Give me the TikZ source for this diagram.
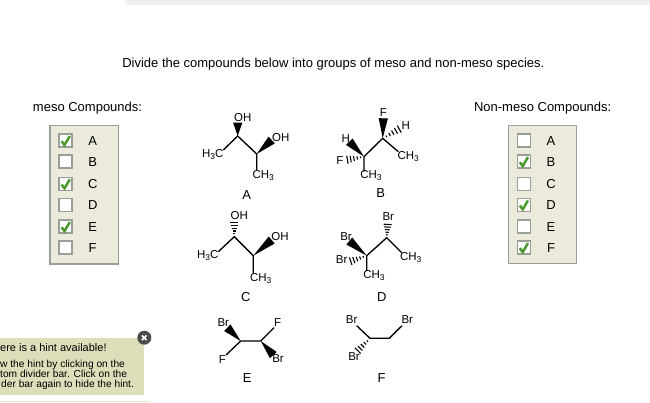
\documentclass[tikz,border=0pt]{standalone}
\usepackage{fontspec}
\setmainfont{Liberation Sans}
\usepackage{tikz}
\usetikzlibrary{calc,positioning}
\definecolor{panelfill}{HTML}{ECEADA}
\definecolor{panelline}{HTML}{989F98}
\definecolor{hintfill}{HTML}{DEDEBB}
\definecolor{tickgreen}{HTML}{4C9A2F}
\newcommand{\sub}[1]{\raisebox{-2pt}{\fontsize{8.5}{9}\selectfont #1}}
\tikzset{
  bond/.style={line width=1.35pt},
  atom/.style={font=\fontsize{11.5}{12}\selectfont,inner sep=0pt},
  letter/.style={font=\fontsize{13}{13}\selectfont,inner sep=0pt},
  heading/.style={font=\fontsize{13}{13}\selectfont,inner sep=0pt},
  panel/.style={draw=panelline,line width=1.5pt,fill=panelfill},
  tickbox/.style={draw=panelline,line width=1.7pt,fill=white,minimum size=13pt,inner sep=0pt},
  tickmark/.style={draw=tickgreen,line width=2.5pt},
  hint/.style={font=\fontsize{10.2}{11}\selectfont,inner sep=0pt,anchor=base west}
}
\newcommand{\wedgebond}[2]{\fill (#1) -- ($(#2)!4.6pt!90:(#1)$) -- ($(#2)!4.6pt!-90:(#1)$) -- cycle;}
\newcommand{\hashbond}[2]{\foreach \t in {0.2,0.38,...,1.0}{
  \coordinate (h) at ($(#1)!\t!(#2)$);
  \draw[line width=1.1pt] ($(h)!\t*4.4pt!90:(#2)$) -- ($(h)!\t*4.4pt!-90:(#2)$);}}

\begin{document}
\begin{tikzpicture}[x=1pt,y=-1pt]
\useasboundingbox (0,0) rectangle (650,402);
% top strip
\fill[black!6] (125,0) rectangle (650,5);
\node[heading] (title) at (333.3,64) {Divide the compounds below into groups of meso and non-meso species.};
\node[heading] (mesohead) at (87.5,108.5) {meso Compounds:};
\node[heading] (nonhead) at (542.7,108.5) {Non-meso Compounds:};
% answer panels
\draw[panel] (50,125.7) rectangle (118.3,264);
\draw[panel] (508.7,125.7) rectangle (576.7,263.5);
\foreach \l/\y in {A/140.7,B/161.7,C/184,D/205,E/226.7,F/247.7}{
  \node[tickbox] (m\l) at (65.8,\y) {};
  \node[letter] (ml\l) at (92.7,\y) {\l};
  \node[tickbox] (n\l) at (524,\y) {};
  \node[letter] (nl\l) at (551,\y) {\l};
}
\foreach \b in {mA,mC,mE,nB,nD,nF}{
  \draw[tickmark] ($(\b)+(-4.2,0.5)$) -- ($(\b)+(-1.3,4.4)$) -- ($(\b)+(4,-4.6)$);
}
% compound A
\coordinate (a1) at (237.7,136);
\coordinate (a2) at (256.7,154);
\coordinate (a3) at (223.3,150);
\coordinate (a4) at (256.7,170);
\coordinate (a5) at (237.7,122.7);
\coordinate (a6) at (271.7,140);
\draw[bond] (a3) -- (a1) -- (a2) -- (a4);
\wedgebond{a1}{a5}
\wedgebond{a2}{a6}
\node[atom] (aOHa) at (242.7,117.3) {OH};
\node[atom] (aOHb) at (280.7,137.3) {OH};
\node[atom] (aMe) at (212.7,154.3) {H\sub{3}C};
\node[atom] (aMf) at (263.3,175.3) {CH\sub{3}};
\node[letter] (A) at (246.7,194.7) {A};
% compound B
\coordinate (b1) at (364,156.7);
\coordinate (b2) at (382.7,138.3);
\coordinate (b3) at (398.3,151.7);
\coordinate (b4) at (364,171.7);
\coordinate (b5) at (383.3,118.3);
\coordinate (b6) at (400.7,128.3);
\coordinate (b7) at (349.3,141.7);
\coordinate (b8) at (346,160);
\draw[bond] (b4) -- (b1) -- (b2) -- (b3);
\wedgebond{b2}{b5}
\hashbond{b2}{b6}
\wedgebond{b1}{b7}
\hashbond{b1}{b8}
\node[atom] (bFa) at (383.3,112.7) {F};
\node[atom] (bHa) at (405.7,125.3) {H};
\node[atom] (bHb) at (345.7,138.3) {H};
\node[atom] (bFb) at (340,160.7) {F};
\node[atom] (bMe) at (408.3,156.7) {CH\sub{3}};
\node[atom] (bMf) at (371,176) {CH\sub{3}};
\node[letter] (B) at (380.7,193.3) {B};
% compound C
\coordinate (c1) at (234.3,236.7);
\coordinate (c2) at (253.3,255.7);
\coordinate (c3) at (218.3,251.7);
\coordinate (c4) at (253.3,273.3);
\coordinate (c5) at (234.3,221.7);
\coordinate (c6) at (271.7,240);
\draw[bond] (c3) -- (c1) -- (c2) -- (c4);
\hashbond{c1}{c5}
\wedgebond{c2}{c6}
\node[atom] (cOHa) at (239.3,216) {OH};
\node[atom] (cOHb) at (280,237) {OH};
\node[atom] (cMe) at (207.7,256) {H\sub{3}C};
\node[atom] (cMf) at (260.7,279) {CH\sub{3}};
\node[letter] (C) at (245.7,297) {C};
% compound D
\coordinate (d1) at (366.7,255.7);
\coordinate (d2) at (386.7,237.7);
\coordinate (d3) at (401.7,252.7);
\coordinate (d4) at (366.7,271);
\coordinate (d5) at (387.7,223.3);
\coordinate (d6) at (349.3,241);
\coordinate (d7) at (349.3,261.7);
\draw[bond] (d4) -- (d1) -- (d2) -- (d3);
\hashbond{d2}{d5}
\wedgebond{d1}{d6}
\hashbond{d1}{d7}
\node[atom] (dBra) at (388.3,216.7) {Br};
\node[atom] (dBrb) at (346,237) {Br};
\node[atom] (dBrc) at (341.7,260) {Br};
\node[atom] (dMe) at (410.7,257.7) {CH\sub{3}};
\node[atom] (dMf) at (374,275.7) {CH\sub{3}};
\node[letter] (D) at (381.7,297) {D};
% compound E
\coordinate (e1) at (240.7,341);
\coordinate (e2) at (260.7,341);
\coordinate (e3) at (226,355);
\coordinate (e4) at (274,327.7);
\coordinate (e5) at (227.3,327.7);
\coordinate (e6) at (273.3,355);
\draw[bond] (e3) -- (e1) -- (e2) -- (e4);
\wedgebond{e1}{e5}
\wedgebond{e2}{e6}
\node[atom] (eFa) at (222.3,359.3) {F};
\node[atom] (eFb) at (277.7,322.3) {F};
\node[atom] (eBra) at (223.3,322.7) {Br};
\node[atom] (eBrb) at (278,358.3) {Br};
\node[letter] (E) at (247.3,377.7) {E};
% compound F
\coordinate (f1) at (370,338.3);
\coordinate (f2) at (389.3,338.3);
\coordinate (f3) at (356.7,325.7);
\coordinate (f4) at (402,325.7);
\coordinate (f5) at (356.7,351.7);
\draw[bond] (f3) -- (f1) -- (f2) -- (f4);
\hashbond{f1}{f5}
\node[atom] (fBra) at (351.7,319.3) {Br};
\node[atom] (fBrb) at (407.3,319.3) {Br};
\node[atom] (fBrc) at (354,356.7) {Br};
\node[letter] (F) at (381.7,377.7) {F};
% hint box
\fill[hintfill] (0,337.7) rectangle (144,395);
\draw[hintfill!70!white] (0,401.3) -- (150,401.3);
\node[hint,font=\fontsize{11}{11}\selectfont] (hinta) at (0,351) {ere is a hint available!};
\node[hint] (hintb) at (0,367.5) {w the hint by clicking on the};
\node[hint] (hintc) at (0,377) {tom divider bar. Click on the};
\node[hint] (hintd) at (1,387.5) {der bar again to hide the hint.};
\fill[black!70] (144.3,337.7) circle (7);
\draw[white,line width=1.6pt] (142,335.4) -- (146.6,340) (146.6,335.4) -- (142,340);
\end{tikzpicture}
\end{document}
